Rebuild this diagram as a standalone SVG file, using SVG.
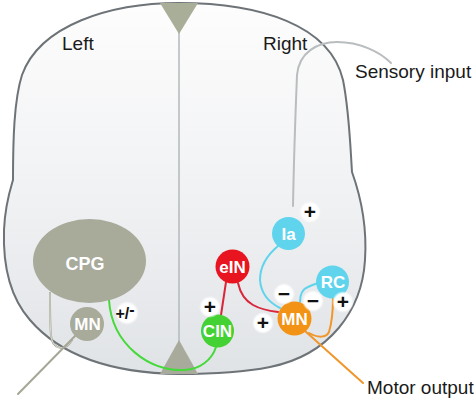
<svg xmlns="http://www.w3.org/2000/svg" width="474" height="407" viewBox="0 0 474 407">
<defs>
<linearGradient id="bg" x1="0" y1="0" x2="0" y2="1">
<stop offset="0" stop-color="#fdfdfd"/>
<stop offset="0.5" stop-color="#f1f2f4"/>
<stop offset="1" stop-color="#e0e3e6"/>
</linearGradient>
<radialGradient id="sg">
<stop offset="0.75" stop-color="#ffffff"/>
<stop offset="1" stop-color="#ffffff" stop-opacity="0"/>
</radialGradient>
</defs>
<style>
.lbl{font-family:"Liberation Sans",Arial,sans-serif;font-size:19px;fill:#1a1a1a}
.nt{font-family:"Liberation Sans",Arial,sans-serif;font-weight:bold;font-size:17px;fill:#ffffff;text-anchor:middle}
.sg{font-family:"Liberation Sans",Arial,sans-serif;font-weight:bold;font-size:21px;fill:#111111;text-anchor:middle}
.c{fill:none;stroke-width:2;stroke-linecap:round}
.gray{fill:#a8aa9a}
.cyan{fill:#5fd4ec}
</style>
<rect width="474" height="407" fill="#ffffff"/>
<g id="cord">
<path d="M179,3 C260,3 330,25 343,80 C349,110 350,140 352,172 C362,200 367,230 365,260 C362,310 330,355 270,367 C240,373 210,374 179,374 C110,373 60,355 30,320 C8,295 3,260 4,230 C5,205 10,190 13,180 C13,140 14,100 22,75 C40,25 110,3 179,3 Z" fill="url(#bg)" stroke="#6d7377" stroke-width="2"/>
<line x1="179" y1="30" x2="179" y2="345" stroke="#b3b8bb" stroke-width="1.5"/>
<polygon points="160,3 198,3 179,34" fill="#a9ae98"/>
<polygon points="179,340 160,374 198,374" fill="#a8aa9c"/>
</g>
<g id="labels">
<text class="lbl" x="62" y="50">Left</text>
<text class="lbl" x="263" y="50">Right</text>
<text class="lbl" x="355" y="78">Sensory input</text>
<text class="lbl" x="367" y="394">Motor output</text>
</g>
<g id="connectors">
<path class="c" d="M293,206 C294,150 296,100 297,75 C299,52 318,42 337,42 C360,42 380,52 391,63" stroke="#b9bdbf"/>
<path class="c" d="M50,293 C50,310 50,325 51,335 C52,350 65,352 72,340" stroke="#a5a796" stroke-width="2.6"/>
<path d="M50,293 C50,310 50,325 51,335 C52,350 65,352 72,340" fill="none" stroke="#e4e5df" stroke-width="0.8"/>
<path class="c" d="M77,334 L18,394" stroke="#a5a796"/>
<path class="c" d="M109,300 C112,345 150,372 185,370 C200,369 212,360 216,347" stroke="#45d93a"/>
<path class="c" d="M226,282 L221,315" stroke="#d8263a"/>
<path class="c" d="M238,283 C240,292 244,300 253,305 C262,310 270,311 278,312" stroke="#d8263a"/>
<path class="c" d="M278,246 C266,256 260,268 260,280 C261,294 268,302 280,308" stroke="#5fd4ec"/>
<path class="c" d="M300,302 C300,294 302,289 308,287 C312,285 315,284 318,283" stroke="#5fd4ec"/>
<path class="c" d="M333,298 C333,310 332,322 329,332 C326,338 318,338 309,333" stroke="#f0962a"/>
<path class="c" d="M305,331 L363,383" stroke="#f0962a"/>
</g>
<g id="node-CPG">
<ellipse class="gray" cx="89.5" cy="261" rx="56.5" ry="42"/>
<text class="nt" x="85" y="270" style="font-size:18px">CPG</text>
</g>
<g id="node-MN-left">
<circle class="gray" cx="87" cy="324" r="17"/>
<text class="nt" x="87.5" y="330">MN</text>
</g>
<g id="node-CIN">
<circle cx="217.5" cy="331" r="16.5" fill="#44d133"/>
<text class="nt" x="217.5" y="337">CIN</text>
</g>
<g id="node-eIN">
<circle cx="232.5" cy="266.5" r="17" fill="#e8141f"/>
<text class="nt" x="232.5" y="272.5">eIN</text>
</g>
<g id="node-MN-right">
<circle cx="294.5" cy="318.5" r="17" fill="#f29316"/>
<text class="nt" x="294.5" y="324.5">MN</text>
</g>
<g id="node-Ia">
<circle class="cyan" cx="288.5" cy="233.5" r="16.5"/>
<text class="nt" x="288.5" y="239.5">Ia</text>
</g>
<g id="node-RC">
<circle class="cyan" cx="332.5" cy="282" r="16.5"/>
<text class="nt" x="333" y="288">RC</text>
</g>
<g id="signs">
<circle cx="127" cy="313" r="12" fill="url(#sg)"/>
<text class="sg" x="125" y="319" style="font-size:16px">+/<tspan dy="-4">-</tspan></text>
<circle cx="210" cy="307" r="11" fill="url(#sg)"/>
<text class="sg" x="210" y="314">+</text>
<circle cx="263" cy="323" r="11" fill="url(#sg)"/>
<text class="sg" x="263" y="330">+</text>
<circle cx="284" cy="294" r="11" fill="url(#sg)"/>
<text class="sg" x="284" y="301">−</text>
<circle cx="313" cy="301" r="11" fill="url(#sg)"/>
<text class="sg" x="313" y="308">−</text>
<circle cx="343" cy="302" r="11" fill="url(#sg)"/>
<text class="sg" x="343" y="309">+</text>
<circle cx="310" cy="212" r="11" fill="url(#sg)"/>
<text class="sg" x="310" y="219">+</text>
</g>
</svg>
